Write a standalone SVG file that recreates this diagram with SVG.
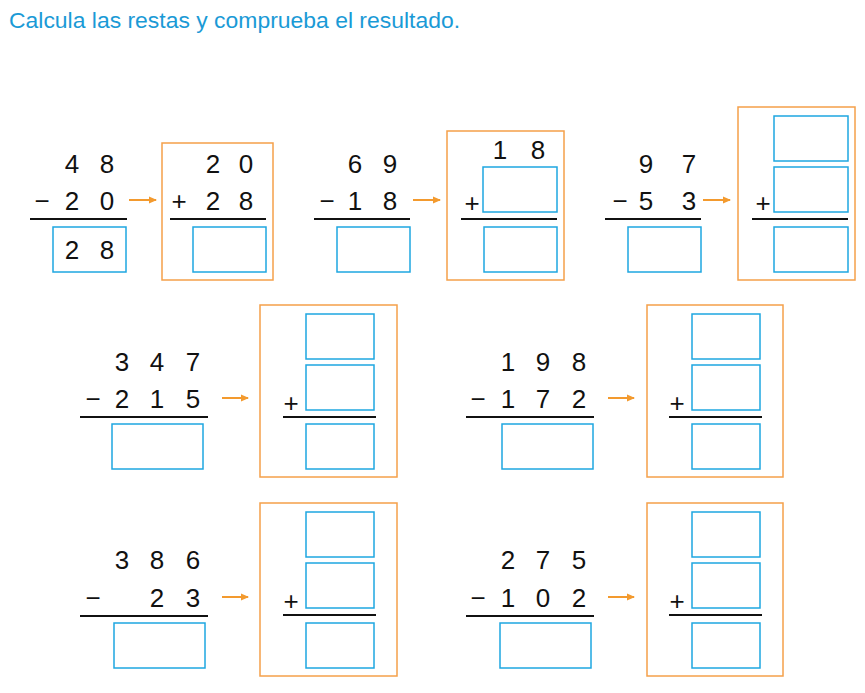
<svg xmlns="http://www.w3.org/2000/svg" width="865" height="693" viewBox="0 0 865 693">
<defs>
<style>
.t{font-family:"Liberation Sans",Arial,sans-serif;font-size:22.5px;fill:#1a9ad6}
.d{font-family:"Liberation Sans",Arial,sans-serif;font-size:26px;fill:#111;text-anchor:middle}
.b{fill:none;stroke:#1ea7e1;stroke-width:1.5}
.o{fill:none;stroke:#f5a04a;stroke-width:1.5}
.l{stroke:#111;stroke-width:2}
.a{stroke:#f39a2e;stroke-width:2;marker-end:url(#ah)}
</style>
<marker id="ah" markerWidth="8" markerHeight="8" refX="7" refY="4" orient="auto" markerUnits="userSpaceOnUse"><path d="M0,0.5 L8,4 L0,7.5z" fill="#f39a2e"/></marker>
</defs>
<rect width="865" height="693" fill="#fff"/>
<text class="t" x="9" y="28" textLength="451" lengthAdjust="spacingAndGlyphs">Calcula las restas y comprueba el resultado.</text>
<g id="connectors">
<line class="a" x1="129" y1="200" x2="156" y2="200"/>
<line class="a" x1="413" y1="200" x2="440" y2="200"/>
<line class="a" x1="703" y1="200" x2="730" y2="200"/>
<line class="a" x1="222" y1="398" x2="248" y2="398"/>
<line class="a" x1="608" y1="398" x2="634" y2="398"/>
<line class="a" x1="222" y1="597" x2="248" y2="597"/>
<line class="a" x1="608" y1="597" x2="634" y2="597"/>
</g>
<g id="p1">
<text class="d" x="72" y="173">4</text><text class="d" x="107" y="173">8</text>
<text class="d" x="42" y="210">−</text><text class="d" x="72" y="210">2</text><text class="d" x="107" y="210">0</text>
<line class="l" x1="30" y1="219" x2="127" y2="219"/>
<rect class="b" x="53" y="227" width="73" height="45"/>
<text class="d" x="72" y="259">2</text><text class="d" x="107" y="259">8</text>
</g>
<g id="c1">
<rect class="o" x="162" y="143" width="111" height="137"/>
<text class="d" x="213" y="173">2</text><text class="d" x="246" y="173">0</text>
<text class="d" x="179" y="210">+</text><text class="d" x="213" y="210">2</text><text class="d" x="246" y="210">8</text>
<line class="l" x1="170" y1="219" x2="266" y2="219"/>
<rect class="b" x="193" y="227" width="73" height="45"/>
</g>
<g id="p2">
<text class="d" x="355" y="173">6</text><text class="d" x="390" y="173">9</text>
<text class="d" x="327" y="210">−</text><text class="d" x="355" y="210">1</text><text class="d" x="390" y="210">8</text>
<line class="l" x1="314" y1="219" x2="410" y2="219"/>
<rect class="b" x="337" y="227" width="73" height="45"/>
</g>
<g id="c2">
<rect class="o" x="447" y="131" width="117" height="149"/>
<text class="d" x="500" y="159">1</text><text class="d" x="538" y="159">8</text>
<text class="d" x="472" y="212">+</text>
<rect class="b" x="483" y="167" width="74" height="45"/>
<line class="l" x1="461" y1="219" x2="557" y2="219"/>
<rect class="b" x="484" y="227" width="73" height="45"/>
</g>
<g id="p3">
<text class="d" x="646" y="173">9</text><text class="d" x="689" y="173">7</text>
<text class="d" x="620" y="210">−</text><text class="d" x="646" y="210">5</text><text class="d" x="689" y="210">3</text>
<line class="l" x1="605" y1="219" x2="701" y2="219"/>
<rect class="b" x="628" y="227" width="73" height="45"/>
</g>
<g id="c3">
<rect class="o" x="738" y="107" width="117" height="173"/>
<rect class="b" x="774" y="116" width="74" height="45"/>
<rect class="b" x="774" y="167" width="74" height="45"/>
<text class="d" x="763" y="212">+</text>
<line class="l" x1="752" y1="219" x2="848" y2="219"/>
<rect class="b" x="774" y="227" width="74" height="45"/>
</g>
<g id="p4">
<text class="d" x="122" y="371">3</text><text class="d" x="157" y="371">4</text><text class="d" x="193" y="371">7</text>
<text class="d" x="93" y="408">−</text><text class="d" x="122" y="408">2</text><text class="d" x="157" y="408">1</text><text class="d" x="193" y="408">5</text>
<line class="l" x1="80" y1="417" x2="208" y2="417"/>
<rect class="b" x="112" y="424" width="91" height="45"/>
</g>
<g id="c4">
<rect class="o" x="260" y="305" width="137" height="172"/>
<rect class="b" x="306" y="314" width="68" height="45"/>
<rect class="b" x="306" y="365" width="68" height="45"/>
<text class="d" x="291" y="412">+</text>
<line class="l" x1="283" y1="417" x2="376" y2="417"/>
<rect class="b" x="306" y="424" width="68" height="45"/>
</g>
<g id="p5">
<text class="d" x="508" y="371">1</text><text class="d" x="543" y="371">9</text><text class="d" x="579" y="371">8</text>
<text class="d" x="478" y="408">−</text><text class="d" x="508" y="408">1</text><text class="d" x="543" y="408">7</text><text class="d" x="579" y="408">2</text>
<line class="l" x1="466" y1="417" x2="594" y2="417"/>
<rect class="b" x="502" y="424" width="91" height="45"/>
</g>
<g id="c5">
<rect class="o" x="647" y="305" width="136" height="172"/>
<rect class="b" x="692" y="314" width="68" height="45"/>
<rect class="b" x="692" y="365" width="68" height="45"/>
<text class="d" x="677" y="412">+</text>
<line class="l" x1="669" y1="417" x2="762" y2="417"/>
<rect class="b" x="692" y="424" width="68" height="45"/>
</g>
<g id="p6">
<text class="d" x="122" y="569">3</text><text class="d" x="157" y="569">8</text><text class="d" x="193" y="569">6</text>
<text class="d" x="93" y="607">−</text><text class="d" x="157" y="607">2</text><text class="d" x="193" y="607">3</text>
<line class="l" x1="80" y1="616" x2="208" y2="616"/>
<rect class="b" x="114" y="623" width="91" height="45"/>
</g>
<g id="c6">
<rect class="o" x="260" y="503" width="137" height="173"/>
<rect class="b" x="306" y="512" width="68" height="45"/>
<rect class="b" x="306" y="563" width="68" height="45"/>
<text class="d" x="291" y="610">+</text>
<line class="l" x1="283" y1="615" x2="376" y2="615"/>
<rect class="b" x="306" y="623" width="68" height="45"/>
</g>
<g id="p7">
<text class="d" x="508" y="569">2</text><text class="d" x="543" y="569">7</text><text class="d" x="579" y="569">5</text>
<text class="d" x="478" y="607">−</text><text class="d" x="508" y="607">1</text><text class="d" x="543" y="607">0</text><text class="d" x="579" y="607">2</text>
<line class="l" x1="466" y1="616" x2="594" y2="616"/>
<rect class="b" x="500" y="623" width="91" height="45"/>
</g>
<g id="c7">
<rect class="o" x="647" y="503" width="136" height="173"/>
<rect class="b" x="692" y="512" width="68" height="45"/>
<rect class="b" x="692" y="563" width="68" height="45"/>
<text class="d" x="677" y="610">+</text>
<line class="l" x1="669" y1="615" x2="762" y2="615"/>
<rect class="b" x="692" y="623" width="68" height="45"/>
</g>
</svg>
